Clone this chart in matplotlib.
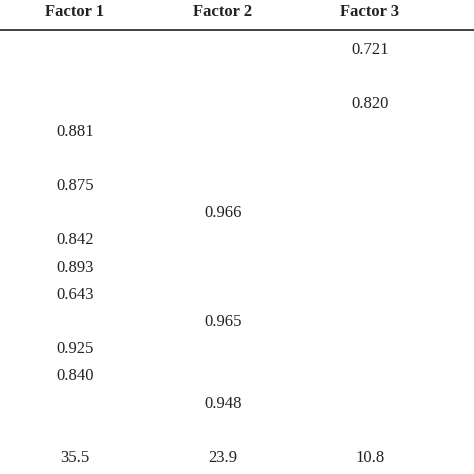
import matplotlib
matplotlib.use("Agg")
import matplotlib.pyplot as plt

headers = ["Factor 1", "Factor 2", "Factor 3"]
# (row index, value) per factor column
factor1 = [(3, "0.881"), (5, "0.875"), (7, "0.842"), (8, "0.893"), (9, "0.643"),
           (11, "0.925"), (12, "0.840"), (15, "35.5")]
factor2 = [(6, "0.966"), (10, "0.965"), (13, "0.948"), (15, "23.9")]
factor3 = [(0, "0.721"), (2, "0.820"), (15, "10.8")]
columns = [factor1, factor2, factor3]
col_x = [75, 223, 370]

fig = plt.figure(figsize=(4.74, 4.74), dpi=100)
ax = fig.add_axes([0, 0, 1, 1])
ax.set_xlim(0, 474)
ax.set_ylim(474, 0)
ax.axis("off")

for x, h in zip(col_x, headers):
    ax.text(x, 12, h, ha="center", va="center", fontsize=12, fontweight="bold",
            family="Liberation Serif", color="#222222")
ax.plot([0, 474], [30, 30], color="#222222", lw=1.2)

for x, col in zip(col_x, columns):
    for r, v in col:
        y = 50 + r * 27.2
        ax.text(x, y, v, ha="center", va="center", fontsize=12,
                family="Liberation Serif", color="#222222")

fig.savefig("out.png", dpi=100)
